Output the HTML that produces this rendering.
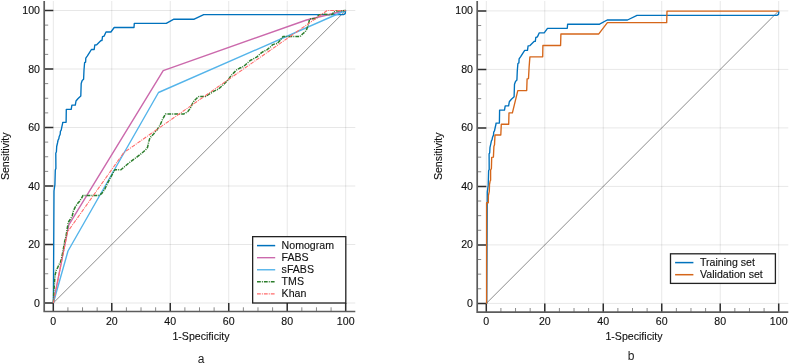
<!DOCTYPE html>
<html><head><meta charset="utf-8"><style>
html,body{margin:0;padding:0;background:#fff;}
svg{display:block;}
</style></head><body>
<svg width="790" height="364" viewBox="0 0 790 364">
<rect width="790" height="364" fill="#fff"/>
<path d="M53.30 1.00V311.50M44.20 303.00H355.30M111.78 1.00V311.50M44.20 244.50H355.30M170.26 1.00V311.50M44.20 186.00H355.30M228.74 1.00V311.50M44.20 127.50H355.30M287.22 1.00V311.50M44.20 69.00H355.30M345.70 1.00V311.50M44.20 10.50H355.30" stroke="#000" stroke-opacity="0.095" stroke-width="1" fill="none"/>
<path d="M44.20 288.38h4M67.92 311.50v-4.2M44.20 273.75h4M82.54 311.50v-4.2M44.20 259.12h4M97.16 311.50v-4.2M44.20 229.88h4M126.40 311.50v-4.2M44.20 215.25h4M141.02 311.50v-4.2M44.20 200.62h4M155.64 311.50v-4.2M44.20 171.38h4M184.88 311.50v-4.2M44.20 156.75h4M199.50 311.50v-4.2M44.20 142.12h4M214.12 311.50v-4.2M44.20 112.88h4M243.36 311.50v-4.2M44.20 98.25h4M257.98 311.50v-4.2M44.20 83.62h4M272.60 311.50v-4.2M44.20 54.38h4M301.84 311.50v-4.2M44.20 39.75h4M316.46 311.50v-4.2M44.20 25.12h4M331.08 311.50v-4.2" stroke="#8a8a8a" stroke-width="1.0" fill="none"/>
<path d="M44.20 303.00H53.30M53.30 311.50V303.00M44.20 244.50H53.30M111.78 311.50V303.00M44.20 186.00H53.30M170.26 311.50V303.00M44.20 127.50H53.30M228.74 311.50V303.00M44.20 69.00H53.30M287.22 311.50V303.00M44.20 10.50H53.30M345.70 311.50V303.00" stroke="#2e2e2e" stroke-width="1.5" fill="none"/>
<path d="M44.20 1.00V312.25M43.45 311.50H355.30" stroke="#5c5c5c" stroke-width="1.7" fill="none"/>
<g font-family='"Liberation Sans", Arial, sans-serif' font-size="10.6" fill="#111" stroke="#111" stroke-width="0.12"><text x="40.00" y="306.80" text-anchor="end">0</text><text x="53.30" y="324.90" text-anchor="middle">0</text><text x="40.00" y="248.30" text-anchor="end">20</text><text x="111.78" y="324.90" text-anchor="middle">20</text><text x="40.00" y="189.80" text-anchor="end">40</text><text x="170.26" y="324.90" text-anchor="middle">40</text><text x="40.00" y="131.30" text-anchor="end">60</text><text x="228.74" y="324.90" text-anchor="middle">60</text><text x="40.00" y="72.80" text-anchor="end">80</text><text x="287.22" y="324.90" text-anchor="middle">80</text><text x="40.00" y="14.30" text-anchor="end">100</text><text x="345.70" y="324.90" text-anchor="middle">100</text><text x="201.00" y="340.00" text-anchor="middle">1-Specificity</text><text transform="translate(8.90 156.25) rotate(-90)" text-anchor="middle">Sensitivity</text></g>
<path d="M53.30 303.00L345.70 10.50" stroke="#666" stroke-width="0.75" fill="none"/>
<path d="M53.40 303.00 L53.80 230.00 L54.00 191.00 L54.90 184.70 L55.30 170.00 L55.90 168.60 L55.80 153.00 L56.40 152.00 L56.70 146.50 L57.50 143.00 L58.10 140.00 L58.80 138.80 L59.20 136.50 L60.20 134.30 L60.40 131.30 L61.20 130.10 L61.90 126.70 L62.70 123.20 L62.70 122.30 L66.10 122.30 L66.30 109.30 L71.20 109.30 L71.90 105.10 L75.30 105.10 L76.00 101.00 L78.10 98.50 L80.80 96.00 L81.20 83.40 L82.20 80.60 L83.60 79.30 L84.00 70.00 L84.60 62.70 L85.60 62.10 L85.80 58.10 L87.40 55.90 L89.30 52.80 L91.40 49.50 L94.20 49.50 L94.80 45.00 L96.70 44.80 L99.20 42.30 L101.00 40.50 L102.00 40.50 L102.50 36.70 L104.10 36.10 L106.00 32.00 L110.90 32.00 L114.20 27.50 L134.00 27.50 L134.30 23.40 L166.30 23.40 L173.90 19.20 L194.20 19.20 L203.70 14.60 L343.50 14.60 L345.20 13.60 L345.60 10.50" stroke="#0072bd" stroke-width="1.35" fill="none" stroke-linejoin="round"/>
<path d="M53.30 303.00 L68.80 224.80 L163.20 70.60 L306.50 20.00 L345.60 10.50" stroke="#cb69ac" stroke-width="1.4" fill="none" stroke-linejoin="round"/>
<path d="M53.30 303.00 L68.00 251.00 L158.50 92.50 L345.60 10.50" stroke="#54b4ea" stroke-width="1.4" fill="none" stroke-linejoin="round"/>
<path d="M53.30 303.00 L53.50 301.20 L53.80 291.00 L54.40 285.10 L54.60 280.50 L55.20 274.70 L56.30 270.10 L57.50 267.80 L59.20 264.30 L60.40 262.00 L61.40 259.20 L62.90 251.50 L64.50 242.30 L66.00 236.20 L67.50 226.90 L68.30 222.30 L69.80 220.00 L72.20 216.20 L73.40 210.80 L75.30 206.90 L77.20 204.00 L79.60 201.20 L81.50 198.30 L83.00 195.40 L98.80 195.40 L101.70 193.50 L104.60 189.60 L106.60 185.20 L108.80 180.80 L111.00 176.90 L113.20 172.50 L114.80 169.80 L120.90 169.80 L124.20 167.00 L128.60 163.20 L133.00 159.90 L136.80 157.10 L141.60 153.40 L145.60 149.90 L147.60 147.20 L148.70 142.00 L149.70 138.60 L151.10 136.50 L153.80 133.80 L157.00 129.90 L160.10 125.00 L162.70 119.10 L165.40 114.10 L183.60 114.10 L188.00 111.40 L190.70 107.50 L192.40 103.70 L194.00 100.90 L196.80 98.20 L199.00 96.50 L205.60 96.50 L209.30 94.00 L214.00 91.20 L218.70 88.90 L222.40 85.60 L226.50 81.50 L228.40 79.60 L231.10 75.70 L232.20 74.40 L234.20 72.40 L235.80 70.50 L237.50 69.40 L239.40 68.30 L242.10 67.20 L244.00 66.10 L248.00 62.50 L250.20 60.50 L253.70 58.70 L256.60 57.20 L258.80 55.00 L261.60 52.60 L263.40 51.50 L266.90 49.80 L270.20 47.10 L272.40 44.90 L275.00 43.80 L277.00 43.60 L280.30 40.30 L283.00 36.50 L288.00 36.50 L300.00 36.50 L302.50 34.00 L305.00 32.00 L306.60 29.50 L307.80 26.20 L308.70 23.30 L309.50 19.20 L311.10 18.80 L316.50 18.40 L318.60 15.10 L321.40 14.20 L324.70 14.20 L328.90 14.70 L332.60 14.20 L333.40 12.20 L336.30 11.00 L345.60 10.50" stroke="#2b7d2b" stroke-width="1.5" fill="none" stroke-linejoin="round" stroke-dasharray="3.8 1.05 1 1.05"/>
<path d="M53.30 303.00 L67.50 232.00 L123.60 152.80 L327.20 10.50 L345.60 10.50" stroke="#ff6b6b" stroke-width="1.1" fill="none" stroke-linejoin="round" stroke-dasharray="3.8 1.05 1 1.05"/>
<rect x="252.65" y="236.65" width="93.15" height="66.35" fill="#fff" stroke="#222" stroke-width="1.3"/>
<path d="M257.00 245.60H275.20" stroke="#0072bd" stroke-width="1.5"/>
<text x="281.60" y="249.00" font-family='"Liberation Sans", Arial, sans-serif' font-size="10.6" fill="#111" stroke="#111" stroke-width="0.12">Nomogram</text>
<path d="M257.00 257.68H275.20" stroke="#cb69ac" stroke-width="1.4"/>
<text x="281.60" y="261.00" font-family='"Liberation Sans", Arial, sans-serif' font-size="10.6" fill="#111" stroke="#111" stroke-width="0.12">FABS</text>
<path d="M257.00 269.76H275.20" stroke="#54b4ea" stroke-width="1.4"/>
<text x="281.60" y="273.00" font-family='"Liberation Sans", Arial, sans-serif' font-size="10.6" fill="#111" stroke="#111" stroke-width="0.12">sFABS</text>
<path d="M257.00 281.84H275.20" stroke="#2b7d2b" stroke-width="1.5" stroke-dasharray="3.8 1.05 1 1.05"/>
<text x="281.60" y="285.00" font-family='"Liberation Sans", Arial, sans-serif' font-size="10.6" fill="#111" stroke="#111" stroke-width="0.12">TMS</text>
<path d="M257.00 293.92H275.20" stroke="#ff6b6b" stroke-width="1.1" stroke-dasharray="3.8 1.05 1 1.05"/>
<text x="281.60" y="297.00" font-family='"Liberation Sans", Arial, sans-serif' font-size="10.6" fill="#111" stroke="#111" stroke-width="0.12">Khan</text>
<path d="M486.30 1.00V312.20M477.20 303.40H788.30M544.78 1.00V312.20M477.20 244.90H788.30M603.26 1.00V312.20M477.20 186.40H788.30M661.74 1.00V312.20M477.20 127.90H788.30M720.22 1.00V312.20M477.20 69.40H788.30M778.70 1.00V312.20M477.20 10.90H788.30" stroke="#000" stroke-opacity="0.095" stroke-width="1" fill="none"/>
<path d="M477.20 288.77h4M500.92 312.20v-4.2M477.20 274.15h4M515.54 312.20v-4.2M477.20 259.52h4M530.16 312.20v-4.2M477.20 230.27h4M559.40 312.20v-4.2M477.20 215.65h4M574.02 312.20v-4.2M477.20 201.02h4M588.64 312.20v-4.2M477.20 171.77h4M617.88 312.20v-4.2M477.20 157.15h4M632.50 312.20v-4.2M477.20 142.52h4M647.12 312.20v-4.2M477.20 113.27h4M676.36 312.20v-4.2M477.20 98.65h4M690.98 312.20v-4.2M477.20 84.02h4M705.60 312.20v-4.2M477.20 54.78h4M734.84 312.20v-4.2M477.20 40.15h4M749.46 312.20v-4.2M477.20 25.52h4M764.08 312.20v-4.2" stroke="#8a8a8a" stroke-width="1.0" fill="none"/>
<path d="M477.20 303.40H486.30M486.30 312.20V303.40M477.20 244.90H486.30M544.78 312.20V303.40M477.20 186.40H486.30M603.26 312.20V303.40M477.20 127.90H486.30M661.74 312.20V303.40M477.20 69.40H486.30M720.22 312.20V303.40M477.20 10.90H486.30M778.70 312.20V303.40" stroke="#2e2e2e" stroke-width="1.5" fill="none"/>
<path d="M477.20 1.00V312.95M476.45 312.20H788.30" stroke="#5c5c5c" stroke-width="1.7" fill="none"/>
<g font-family='"Liberation Sans", Arial, sans-serif' font-size="10.6" fill="#111" stroke="#111" stroke-width="0.12"><text x="473.00" y="306.80" text-anchor="end">0</text><text x="486.30" y="324.90" text-anchor="middle">0</text><text x="473.00" y="248.30" text-anchor="end">20</text><text x="544.78" y="324.90" text-anchor="middle">20</text><text x="473.00" y="189.80" text-anchor="end">40</text><text x="603.26" y="324.90" text-anchor="middle">40</text><text x="473.00" y="131.30" text-anchor="end">60</text><text x="661.74" y="324.90" text-anchor="middle">60</text><text x="473.00" y="72.80" text-anchor="end">80</text><text x="720.22" y="324.90" text-anchor="middle">80</text><text x="473.00" y="14.30" text-anchor="end">100</text><text x="778.70" y="324.90" text-anchor="middle">100</text><text x="634.00" y="340.00" text-anchor="middle">1-Specificity</text><text transform="translate(441.90 156.25) rotate(-90)" text-anchor="middle">Sensitivity</text></g>
<path d="M486.30 303.40L778.70 10.90" stroke="#666" stroke-width="0.75" fill="none"/>
<path d="M486.70 303.80 L487.10 230.80 L487.30 191.80 L488.20 185.50 L488.60 170.80 L489.20 169.40 L489.10 153.80 L489.70 152.80 L490.00 147.30 L490.80 143.80 L491.40 140.80 L492.10 139.60 L492.50 137.30 L493.50 135.10 L493.70 132.10 L494.50 130.90 L495.20 127.50 L496.00 124.00 L496.00 123.10 L499.40 123.10 L499.60 110.10 L504.50 110.10 L505.20 105.90 L508.60 105.90 L509.30 101.80 L511.40 99.30 L514.10 96.80 L514.50 84.20 L515.50 81.40 L516.90 80.10 L517.30 70.80 L517.90 63.50 L518.90 62.90 L519.10 58.90 L520.70 56.70 L522.60 53.60 L524.70 50.30 L527.50 50.30 L528.10 45.80 L530.00 45.60 L532.50 43.10 L534.30 41.30 L535.30 41.30 L535.80 37.50 L537.40 36.90 L539.30 32.80 L544.20 32.80 L547.50 28.30 L567.30 28.30 L567.60 24.20 L599.60 24.20 L607.20 20.00 L627.50 20.00 L637.00 15.40 L776.80 15.40 L778.50 14.40 L778.90 11.30" stroke="#0072bd" stroke-width="1.35" fill="none" stroke-linejoin="round"/>
<path d="M486.60 303.75 L486.60 202.75 L488.30 202.75 L488.40 195.65 L489.30 191.35 L489.50 184.65 L490.20 180.75 L490.60 180.35 L490.60 170.15 L491.40 168.45 L491.70 157.35 L493.40 157.15 L493.90 146.45 L494.50 144.85 L495.00 134.95 L500.80 134.95 L501.30 124.25 L508.70 124.25 L509.00 112.85 L512.40 112.85 L517.80 90.55 L526.70 90.55 L527.10 78.95 L528.50 78.55 L529.10 67.35 L529.90 56.85 L542.70 56.85 L542.90 45.45 L560.60 45.45 L560.90 33.95 L598.80 33.95 L607.40 22.65 L666.70 22.65 L667.00 11.05 L778.90 11.05" stroke="#d5661a" stroke-width="1.35" fill="none" stroke-linejoin="round"/>
<rect x="670.50" y="253.80" width="104.90" height="29.60" fill="#fff" stroke="#222" stroke-width="1.3"/>
<path d="M675.10 262.60H693.40" stroke="#0072bd" stroke-width="1.5"/>
<text x="700.00" y="265.90" font-family='"Liberation Sans", Arial, sans-serif' font-size="10.6" fill="#111" stroke="#111" stroke-width="0.12">Training set</text>
<path d="M675.10 274.70H693.40" stroke="#d5661a" stroke-width="1.5"/>
<text x="700.00" y="277.80" font-family='"Liberation Sans", Arial, sans-serif' font-size="10.6" fill="#111" stroke="#111" stroke-width="0.12">Validation set</text>
<text x="201.2" y="362.6" text-anchor="middle" font-family='"Liberation Sans", Arial, sans-serif' font-size="12" fill="#222">a</text>
<text x="631.1" y="359.6" text-anchor="middle" font-family='"Liberation Sans", Arial, sans-serif' font-size="12" fill="#222">b</text>
</svg>
</body></html>
